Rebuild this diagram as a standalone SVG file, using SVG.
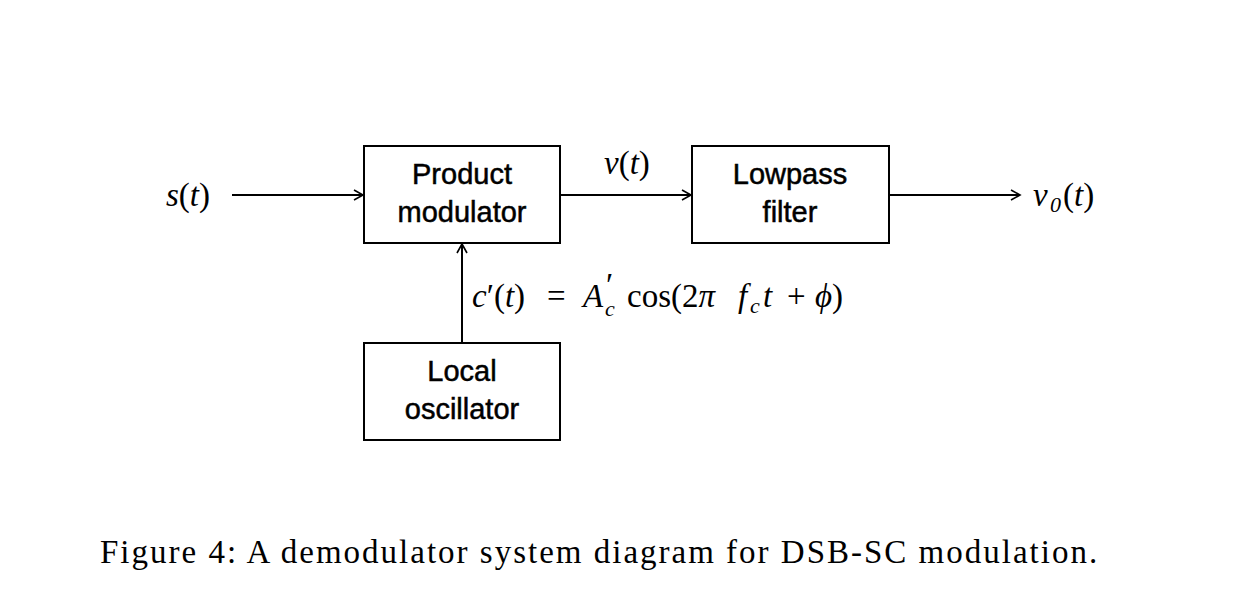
<svg xmlns="http://www.w3.org/2000/svg" width="1245" height="596" viewBox="0 0 1245 596">
<defs>
<style>
.box{fill:#fff;stroke:#000;stroke-width:2}
.bt{font-family:"Liberation Sans",Arial,sans-serif;font-size:29px;text-anchor:middle;fill:#000;stroke:#000;stroke-width:0.5}
.m{font-family:"Liberation Serif","Times New Roman",serif;font-size:33px;fill:#000}
.s{font-family:"Liberation Serif","Times New Roman",serif;font-size:22px;font-style:italic;fill:#000}
.i{font-style:italic}
.ln{stroke:#000;stroke-width:2;fill:none}
</style>
<marker id="ah" markerWidth="12" markerHeight="12" refX="10" refY="6" orient="auto" markerUnits="userSpaceOnUse">
<path d="M1,1 L10,6 L1,11" fill="none" stroke="#000" stroke-width="1.6"/>
</marker>
</defs>
<rect width="1245" height="596" fill="#fff"/>
<g id="connectors">
<line class="ln" x1="232" y1="195" x2="363" y2="195" marker-end="url(#ah)"/>
<line class="ln" x1="560" y1="195" x2="691" y2="195" marker-end="url(#ah)"/>
<line class="ln" x1="889" y1="195" x2="1020" y2="195" marker-end="url(#ah)"/>
<line class="ln" x1="462" y1="343" x2="462" y2="244" marker-end="url(#ah)"/>
</g>
<g id="product">
<rect class="box" x="364" y="146" width="196" height="97"/>
<text class="bt" x="462" y="184">Product</text>
<text class="bt" x="462" y="222">modulator</text>
</g>
<g id="lowpass">
<rect class="box" x="692" y="146" width="197" height="97"/>
<text class="bt" x="790" y="184">Lowpass</text>
<text class="bt" x="790" y="222">filter</text>
</g>
<g id="oscillator">
<rect class="box" x="364" y="343" width="196" height="97"/>
<text class="bt" x="462" y="381">Local</text>
<text class="bt" x="462" y="419">oscillator</text>
</g>
<g id="labels">
<text class="m" x="166" y="206"><tspan class="i">s</tspan>(<tspan class="i">t</tspan>)</text>
<text class="m" x="604" y="174"><tspan class="i">v</tspan>(<tspan class="i">t</tspan>)</text>
<text class="m i" x="1033" y="206">v</text>
<text class="s" x="1050" y="212" font-style="normal">0</text>
<text class="m" x="1063" y="206">(<tspan class="i">t</tspan>)</text>
<text class="m" x="472" y="307"><tspan class="i">c</tspan>′(<tspan class="i">t</tspan>)</text>
<text class="m" x="547" y="307">=</text>
<text class="m i" x="583" y="307">A</text>
<text class="m" x="606" y="296" font-size="22">′</text>
<text class="s" x="605" y="316">c</text>
<text class="m" x="627" y="307">cos(2<tspan class="i">π</tspan></text>
<text class="m i" x="738" y="307">f</text>
<text class="s" x="750" y="313">c</text>
<text class="m i" x="763" y="307">t</text>
<text class="m" x="787" y="307">+</text>
<text class="m" x="815" y="307"><tspan class="i">ϕ</tspan>)</text>
</g>
<text class="m" x="100" y="563" font-size="34" letter-spacing="2">Figure 4: A demodulator system diagram for DSB-SC modulation.</text>
</svg>
